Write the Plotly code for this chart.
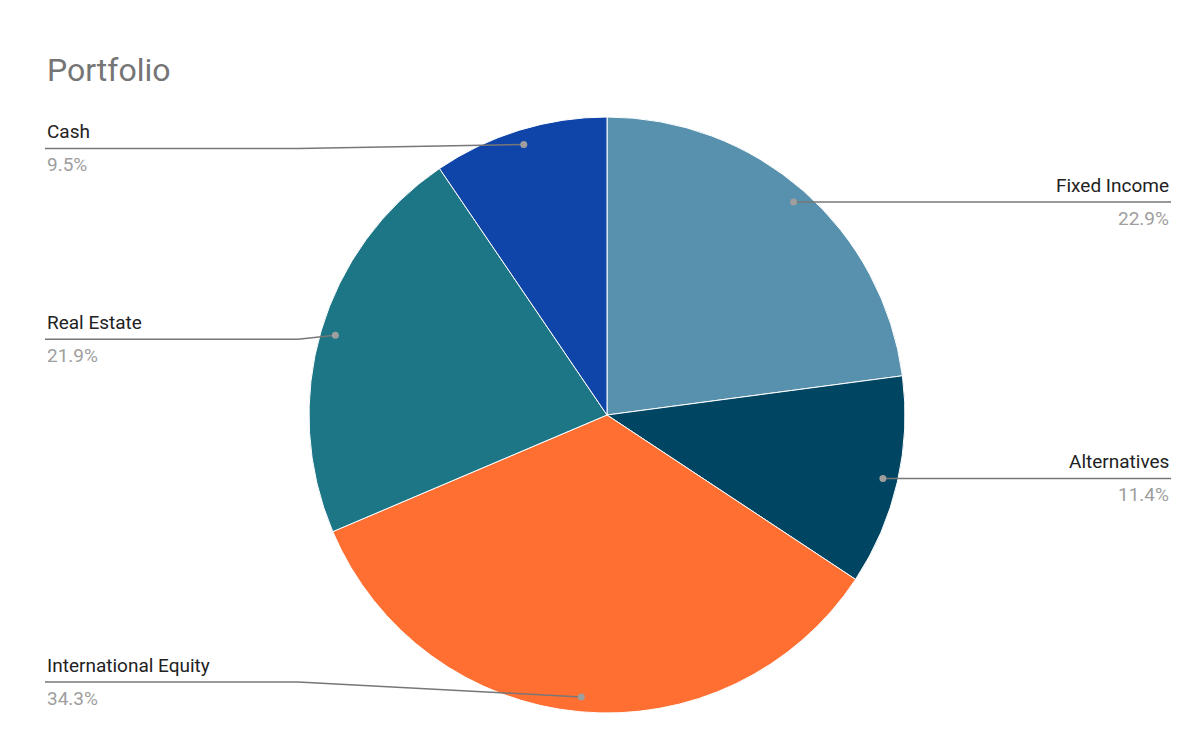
import math
import plotly.graph_objects as go

labels = ["Fixed Income", "Alternatives", "International Equity", "Real Estate", "Cash"]
values = [22.9, 11.4, 34.3, 21.9, 9.5]
colors = ["#5891AD", "#004561", "#FF6F31", "#1C7685", "#0F45A8"]

W, H = 1200, 742
cx, cy, R = 599, 407, 298

fig = go.Figure(go.Pie(
    labels=labels, values=values, sort=False, direction="clockwise", rotation=0,
    marker=dict(colors=colors, line=dict(color="white", width=1)),
    textinfo="none", hoverinfo="label+percent", showlegend=False,
    domain=dict(x=[(cx - R) / W, (cx + R) / W], y=[1 - (cy + R) / H, 1 - (cy - R) / H]),
))

def px(x): return x / W
def py(y): return 1 - y / H

shapes, annos = [], []
total = sum(values)
cum = 0
for lab, v in zip(labels, values):
    mid = (cum + v / 2) / total * 2 * math.pi
    cum += v
    x0 = cx + 0.95 * R * math.sin(mid)
    y0 = cy - 0.95 * R * math.cos(mid)
    pct = f"{v / total * 100:.1f}%"
    if x0 >= cx:
        ly = y0
        shapes.append(dict(type="line", xref="paper", yref="paper", x0=px(x0), y0=py(y0),
                           x1=px(1163), y1=py(ly), line=dict(color="#777777", width=1.5)))
        xa, anchor = 1163, "right"
    else:
        ly = y0 + (4 if y0 < cy else -15)
        shapes.append(dict(type="line", xref="paper", yref="paper", x0=px(x0), y0=py(y0),
                           x1=px(290), y1=py(ly), line=dict(color="#777777", width=1.5)))
        shapes.append(dict(type="line", xref="paper", yref="paper", x0=px(290), y0=py(ly),
                           x1=px(37), y1=py(ly), line=dict(color="#777777", width=1.5)))
        xa, anchor = 37, "left"
    shapes.append(dict(type="circle", xref="paper", yref="paper", x0=px(x0 - 3.5), x1=px(x0 + 3.5),
                       y0=py(y0 - 3.5), y1=py(y0 + 3.5), fillcolor="#9e9e9e", line=dict(width=0)))
    annos.append(dict(x=px(xa), y=py(ly - 3), xref="paper", yref="paper", text=lab, showarrow=False,
                      xanchor=anchor, yanchor="bottom", font=dict(size=19, color="#222222")))
    annos.append(dict(x=px(xa), y=py(ly + 3), xref="paper", yref="paper", text=pct, showarrow=False,
                      xanchor=anchor, yanchor="top", font=dict(size=19, color="#9e9e9e")))

annos.append(dict(x=px(37), y=py(62), xref="paper", yref="paper", text="Portfolio", showarrow=False,
                  xanchor="left", yanchor="middle", font=dict(size=32, color="#757575")))

fig.update_layout(width=W, height=H, margin=dict(l=0, r=0, t=0, b=0),
                  paper_bgcolor="white", font=dict(family="Roboto, Arial, sans-serif"),
                  shapes=shapes, annotations=annos)
fig.write_html("out.html")
